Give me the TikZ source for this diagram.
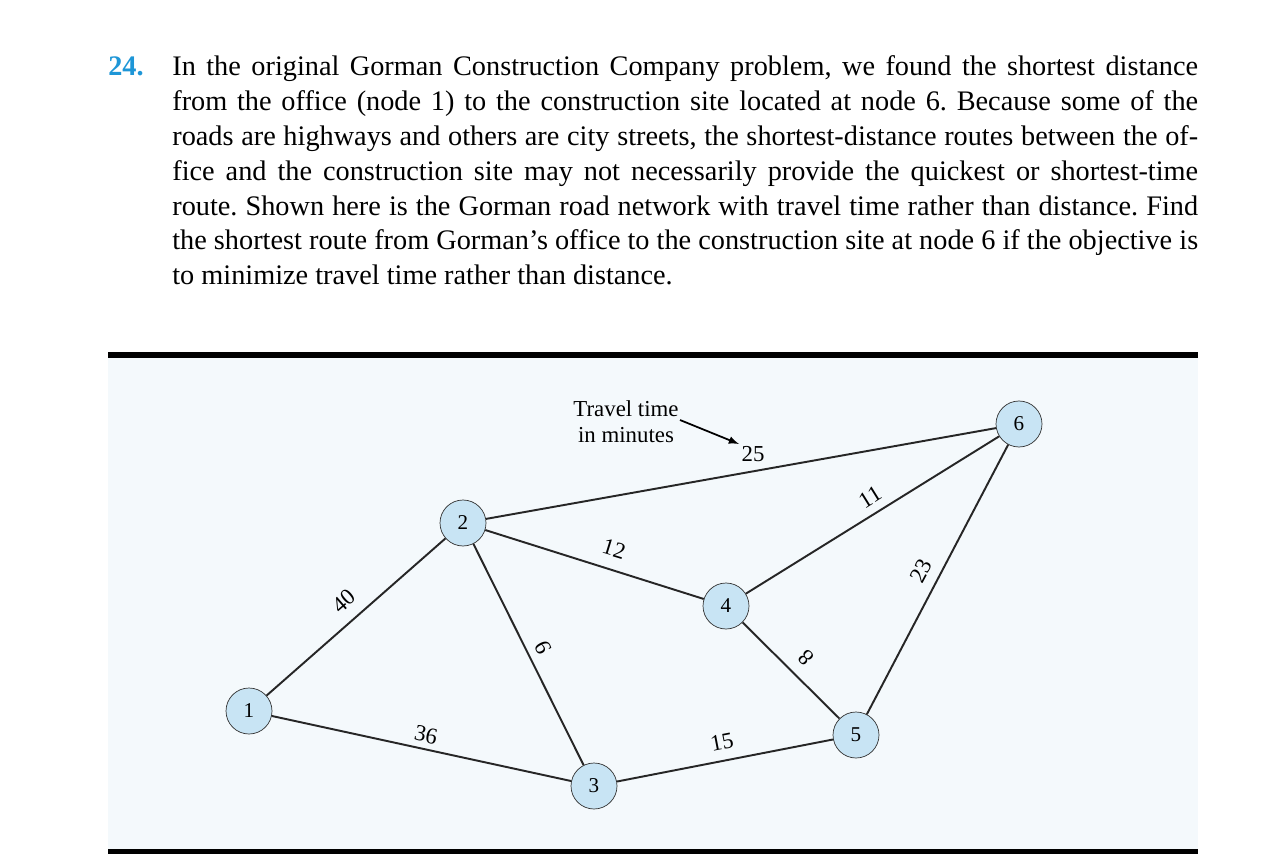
\documentclass[tikz,border=0pt]{standalone}
\usepackage{fontspec}
\setmainfont{Liberation Serif}
\begin{document}
\frenchspacing
\begin{tikzpicture}[x=0.02cm,y=-0.02cm,
  nd/.style={circle,draw=black!80,fill=nodeblue,minimum size=46*0.02cm,inner sep=0pt,font=\fontsize{12}{12}\selectfont},
  ed/.style={draw=black!85,line width=1.1pt},
  lb/.style={font=\fontsize{13}{13}\selectfont,inner sep=0pt},
  ln/.style={anchor=base west,inner sep=0pt,font=\fontsize{16.1}{19}\selectfont}]
\definecolor{nodeblue}{RGB}{200,228,244}
\definecolor{panel}{RGB}{244,249,252}
\definecolor{numblue}{RGB}{30,150,215}
\useasboundingbox (0,0) rectangle (1280,854);
\fill[white] (0,0) rectangle (1280,854);
\fill[panel] (108,355) rectangle (1198,851);
\draw[line width=3pt] (108,355) -- (1198,355);
\draw[line width=3pt] (108,852) -- (1198,852);
\node[ln,text=numblue,font=\bfseries\fontsize{16.1}{19}\selectfont] (n24) at (108,76) {24.};
\newcommand{\W}{20.52cm}
\node[ln] (l1) at (172,76) {\hbox to \W{In the original Gorman Construction Company problem, we found the shortest distance}};
\node[ln] (l2) at (172,111) {\hbox to \W{from the office (node 1) to the construction site located at node 6. Because some of the}};
\node[ln] (l3) at (172,146) {\hbox to \W{roads are highways and others are city streets, the shortest-distance routes between the of-}};
\node[ln] (l4) at (172,181) {\hbox to \W{fice and the construction site may not necessarily provide the quickest or shortest-time}};
\node[ln] (l5) at (172,216) {\hbox to \W{route. Shown here is the Gorman road network with travel time rather than distance. Find}};
\node[ln] (l6) at (172,250) {\hbox to \W{the shortest route from Gorman’s office to the construction site at node 6 if the objective is}};
\node[ln] (l7) at (172,285) {to minimize travel time rather than distance.};
\node[nd] (1) at (249,711) {1};
\node[nd] (2) at (463,523) {2};
\node[nd] (3) at (594,786) {3};
\node[nd] (4) at (726,606) {4};
\node[nd] (5) at (856,735) {5};
\node[nd] (6) at (1019,424) {6};
\draw[ed] (1) -- (2);
\draw[ed] (1) -- (3);
\draw[ed] (2) -- (3);
\draw[ed] (2) -- (4);
\draw[ed] (2) -- (6);
\draw[ed] (3) -- (5);
\draw[ed] (4) -- (5);
\draw[ed] (4) -- (6);
\draw[ed] (5) -- (6);
\node[lb,rotate=41] (w12) at (344,601) {40};
\node[lb,rotate=-12] (w13) at (426,735) {36};
\node[lb,rotate=116] (w23) at (543,648) {9};
\node[lb,rotate=-17] (w24) at (614,549) {12};
\node[lb] (w26) at (753,454) {25};
\node[lb,rotate=11] (w35) at (722,742) {15};
\node[lb,rotate=135] (w45) at (806,658) {8};
\node[lb,rotate=32] (w46) at (870,497) {11};
\node[lb,rotate=62] (w56) at (921,571) {23};
\node[lb,align=center,font=\fontsize{13}{15}\selectfont] (tt) at (626,422) {Travel time\\in minutes};
\draw[line width=1pt,-latex] (680,420) -- (739,444);
\end{tikzpicture}
\end{document}
